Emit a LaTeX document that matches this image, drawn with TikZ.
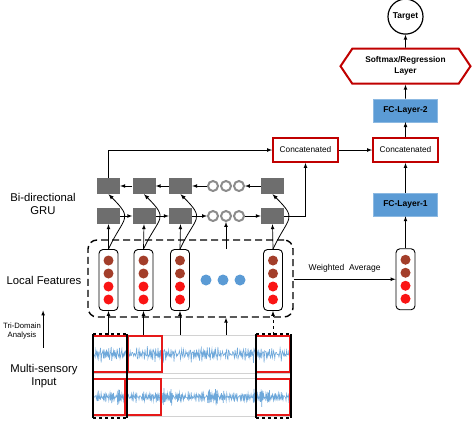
\documentclass[tikz,border=0pt]{standalone}
\usepackage{fontspec}
\setmainfont{Liberation Sans}
\usetikzlibrary{calc,positioning,shapes,shapes.geometric,shapes.symbols}

\definecolor{brn}{RGB}{163,62,42}
\definecolor{dotred}{RGB}{250,20,20}
\definecolor{skyb}{RGB}{91,155,213}
\definecolor{sigb}{RGB}{110,168,218}
\definecolor{grubox}{RGB}{110,110,110}
\definecolor{ringg}{RGB}{140,140,140}
\definecolor{darkred}{RGB}{192,0,0}
\definecolor{winred}{RGB}{230,25,25}

\begin{document}
\begin{tikzpicture}[x=1pt,y=-1pt,
  >=latex,
  conn/.style={->,line width=0.7pt},
  lbl/.style={font=\fontsize{11.3}{13}\selectfont,align=center,inner sep=0},
  catbox/.style={draw=darkred,line width=1.8pt,fill=white,minimum width=65pt,minimum height=24pt,inner sep=0,font=\fontsize{8.3}{10}\selectfont},
  fcbox/.style={fill=skyb,draw=skyb!70,minimum width=64pt,minimum height=23pt,inner sep=0,font=\bfseries\fontsize{8.5}{10}\selectfont},
  vec/.style={draw,line width=0.9pt,rounded corners=4pt,minimum width=19pt,minimum height=61pt,inner sep=0},
  grucell/.style={fill=grubox,minimum width=23pt,minimum height=16pt,inner sep=0},
  ring/.style={draw=ringg,line width=2pt,circle,minimum size=10pt,inner sep=0},
  strip/.style={draw=gray!35,line width=0.6pt,minimum width=197pt,minimum height=38pt,inner sep=0},
  win/.style={draw=winred,line width=1.6pt,minimum width=34pt,minimum height=36pt,inner sep=0},
  sig/.style={sigb,line width=0.6pt},
  colbox/.style={line width=1.3pt}
  ]
  \useasboundingbox (0,0) rectangle (474,421);

  % side labels
  \node[lbl] (lgru) at (43,204) {Bi-directional\\GRU};
  \node[lbl] (lloc) at (44,280) {Local Features};
  \node[lbl] (linp) at (44,376) {Multi-sensory\\Input};
  \node[font=\fontsize{7.7}{9.5}\selectfont,align=center,inner sep=0] (tda) at (22,331) {Tri-Domain\\Analysis};
  \draw[conn] ([yshift=-8pt,xshift=2pt]tda.south east) -- ([yshift=12pt,xshift=2pt]tda.north east);

  % input signals
  \node[strip] (s1) at (191.5,354) {};
  \node[strip] (s2) at (191.5,397) {};
  \draw[sig] plot[domain=94:289,samples=330]
    (\x,{354+(3+2.5*sin(40*mod(\x,9)))*sin(168*mod(\x,15))+3*sin(300*mod(\x,6)+20)+1.5*sin(100*mod(\x,18))});
  \draw[sig] plot[domain=94:289,samples=330]
    (\x,{397+(3+2.5*sin(40*mod(\x,9)+60))*sin(252*mod(\x,10))+3*sin(300*mod(\x,6)+50)+1.5*sin(120*mod(\x,3))});
  \node[win] (w11) at (110,354) {};
  \node[win] (w12) at (145,354) {};
  \node[win] (w14) at (273,354) {};
  \node[win,minimum width=32pt] (w21) at (109,397) {};
  \node[win] (w22) at (144,397) {};
  \node[win] (w24) at (273,397) {};
  \foreach \xa/\xb in {93/127,256/291}{
    \draw[colbox] (\xa,334) -- (\xa,418) (\xb,334) -- (\xb,418);
    \draw[colbox,dashed] (\xa,334) -- (\xb,334) (\xa,418) -- (\xb,418);
  }

  % local features
  \node[draw,line width=1.4pt,dash pattern=on 7pt off 4pt,rounded corners=9pt,
    minimum width=205pt,minimum height=77pt] (lf) at (190.5,278.5) {};
  \foreach \n/\px in {1/108.5,2/143.5,3/180,4/273}{
    \node[vec] (v\n) at (\px,280) {};
    \foreach \dy/\c in {-19.5/brn,-6.5/brn,6.5/dotred,19.5/dotred}
      \fill[\c] (\px,280+\dy) circle (5pt);
  }
  \foreach \n/\px in {1/206,2/223,3/240}
    \node[circle,fill=skyb,minimum size=11pt,inner sep=0] (d\n) at (\px,280) {};

  % GRU cells
  \foreach \n/\px in {1/108.5,2/144,3/180.5,4/272.5}{
    \node[grucell] (gt\n) at (\px,186) {};
    \node[grucell] (gb\n) at (\px,216) {};
  }
  \foreach \n/\px in {1/213,2/226,3/239}{
    \node[ring] (to\n) at (\px,186) {};
    \node[ring] (bo\n) at (\px,216) {};
  }
  \draw[conn] (gt4) -- (to3);
  \draw[conn] (to1) -- (gt3);
  \draw[conn] (gt3) -- (gt2);
  \draw[conn] (gt2) -- (gt1);
  \draw[conn] (gb1) -- (gb2);
  \draw[conn] (gb2) -- (gb3);
  \draw[conn] (gb3) -- (bo1);
  \draw[conn] (bo3) -- (gb4);

  % features to GRU
  \foreach \n in {1,2,3,4}{
    \draw[conn] (v\n.north) -- (gb\n.south);
    \draw[conn,line width=0.8pt] (v\n.north) to[out=65,in=-45,looseness=1.7] (gt\n.south);
  }
  \draw[conn] (bo2 |- v1.north) -- (bo2.south);

  % signals to features
  \foreach \n in {1,2,3}
    \draw[conn] (v\n.south |- s1.north) -- (v\n.south);
  \draw[conn] (bo2 |- s1.north) -- (bo2 |- lf.south);
  \draw[conn,dashed] (v4.south |- s1.north) -- (v4.south);

  % right column
  \node[catbox] (cat1) at (305.5,150) {Concatenated};
  \node[catbox] (cat2) at (405.5,150) {Concatenated};
  \node[fcbox,above=15pt of cat2] (fc2) {FC-Layer-2};
  \node[signal,signal to=west and east,signal pointer angle=112,draw=darkred,line width=2pt,
    fill=white,minimum width=130pt,minimum height=35pt,inner sep=1pt,align=center,
    font=\bfseries\fontsize{8.3}{11}\selectfont,above=14pt of fc2] (soft) {Softmax/Regression\\Layer};
  \node[circle,draw,line width=1.2pt,minimum size=35pt,inner sep=0,
    font=\bfseries\fontsize{8.5}{10}\selectfont,above=13pt of soft] (tgt) {Target};
  \node[fcbox,below=30pt of cat2] (fc1) {FC-Layer-1};
  \node[vec,below=32pt of fc1] (wv) {};
  \foreach \dy/\c in {-19.5/brn,-6.5/brn,6.5/dotred,19.5/dotred}
    \fill[\c] ($(wv.center)+(0,\dy)$) circle (5pt);

  \draw[conn] (gt1.north) |- (cat1.west);
  \draw[conn] (gb4.east) -| (cat1.south);
  \draw[conn] (cat1) -- (cat2);
  \draw[conn] (cat2) -- (fc2);
  \draw[conn] (fc2) -- (soft);
  \draw[conn] (soft) -- (tgt);
  \draw[conn] (wv) -- (fc1);
  \draw[conn] (fc1) -- (cat2);
  \draw[conn] (lf.east |- wv.west) -- node[above=3pt,font=\fontsize{8.5}{10}\selectfont] {Weighted~ Average} (wv.west);

\end{tikzpicture}
\end{document}
